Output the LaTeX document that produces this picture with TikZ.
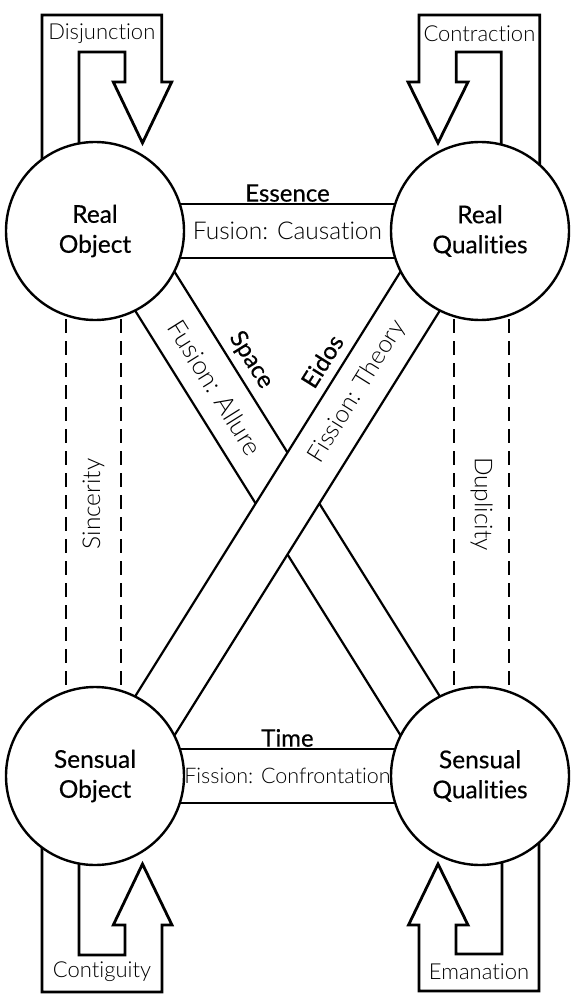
\documentclass[tikz,border=0pt]{standalone}
\usepackage{fontspec}
\setmainfont{Lato}[Ligatures=NoCommon]
\newfontfamily\lightfont{Lato Light}[Ligatures=NoCommon]
\newfontfamily\midfont{Lato}[FakeBold=0.4, Ligatures=NoCommon]
\usetikzlibrary{calc,backgrounds}

\tikzset{
  ball/.style={circle, draw, line width=2.4pt, fill=white, minimum size=178pt, inner sep=0pt, align=center, font=\midfont\fontsize{24.5}{30}\selectfont},
  band/.style={line width=2.2pt},
  loop/.style={line width=2.8pt, line join=miter},
  gap/.style={line width=2.4pt, dash pattern=on 14pt off 8pt},
  note/.style={font=\lightfont\fontsize{22}{26}\selectfont, inner sep=0pt},
  thin/.style={font=\lightfont\fontsize{24.5}{28}\selectfont, inner sep=0pt},
  tag/.style={font=\midfont\fontsize{24}{27}\selectfont, inner sep=2pt},
}

\begin{document}
\begin{tikzpicture}[x=1pt,y=1pt]

    \useasboundingbox (0,0) rectangle (578,-1000);

    \node[ball] (ro) at (95,-231) {Real\\Object};
    \node[ball] (rq) at (480,-231) {Real\\Qualities};
    \node[ball] (so) at (95,-776) {Sensual\\Object};
    \node[ball] (sq) at (480,-776) {Sensual\\Qualities};
    \coordinate (mid) at ($(ro)!.5!(sq)$);

    \begin{scope}[on background layer]
    % dashed pairs
    \draw[gap] ([xshift=-29pt]ro.center) -- ([xshift=-29pt]so.center);
    \draw[gap] ([xshift=26pt]ro.center) -- ([xshift=26pt]so.center);
    \draw[gap] ([xshift=-26pt]rq.center) -- ([xshift=-26pt]sq.center);
    \draw[gap] ([xshift=29pt]rq.center) -- ([xshift=29pt]sq.center);
    % loops
    \draw[loop] (42,-200) -- (42,-15) -- (161.7,-15) -- (161.7,-82) -- (171.7,-82) -- (142.5,-143) -- (113.3,-82) -- (125,-82) -- (125,-52) -- (79,-52) -- (79,-200);
    \draw[loop] (539.7,-200) -- (539.7,-15) -- (419,-15) -- (419,-82) -- (408,-82) -- (438,-143) -- (468,-82) -- (456.3,-82) -- (456.3,-52) -- (501.3,-52) -- (501.3,-200);
    \draw[loop] (42,-807) -- (42,-992) -- (162,-992) -- (162,-925) -- (172,-925) -- (142.5,-864) -- (113.3,-925) -- (125,-925) -- (125,-955) -- (79,-955) -- (79,-807);
    \draw[loop] (539,-807) -- (539,-991) -- (419,-991) -- (419,-925) -- (408.5,-925) -- (438,-864) -- (468,-925) -- (456,-925) -- (456,-954) -- (502,-954) -- (502,-807);
    % bands
    \draw[band] ([yshift=27pt]ro.center) rectangle ([yshift=-27pt]rq.center);
    \draw[band] ([yshift=27pt]so.center) rectangle ([yshift=-27pt]sq.center);
    \draw[band] ($(mid)+(32:27)+(122:300)$) -- ($(mid)+(32:27)+(-58:300)$)
                ($(mid)+(212:27)+(122:300)$) -- ($(mid)+(212:27)+(-58:300)$);
    \draw[band, fill=white] ($(mid)+(148:27)+(58:300)$) -- ($(mid)+(-32:27)+(58:300)$) -- ($(mid)+(-32:27)+(238:300)$) -- ($(mid)+(148:27)+(238:300)$) -- cycle;
    \end{scope}

    \node[note] (disjunction) at (101.8,-33.5) {Disjunction};
    \node[note] (contraction) at (479.4,-33.5) {Contraction};
    \node[note] (contiguity) at (102,-972) {Contiguity};
    \node[note] (emanation) at (479,-972) {Emanation};
    \node[thin, rotate=90] (sincerity) at (93.5,-504) {Sincerity};
    \node[thin, rotate=-90] (duplicity) at (481.5,-504) {Duplicity};

    \path ([yshift=27pt]ro.center) -- ([yshift=27pt]rq.center) node[tag, midway, above] (essence) {Essence};
    \path (ro) -- (rq) node[thin, midway] (causation) {Fusion: Causation};
    \path ([yshift=27pt]so.center) -- ([yshift=27pt]sq.center) node[tag, midway, above] (time) {Time};
    \path (so) -- (sq) node[note, midway, font=\lightfont\fontsize{21.5}{26}\selectfont] (confrontation) {Fission: Confrontation};

    \node[thin, rotate=-58, anchor=west, font=\lightfont\fontsize{26}{28}\selectfont] (allure) at ($(mid)+(122:214)$) {Fusion: Allure};
    \node[tag, rotate=-58] (space) at ($(mid)+(122:141)+(32:45)$) {Space};
    \node[tag, rotate=58] (eidos) at ($(mid)+(58:139)+(148:46)$) {Eidos};
    \node[thin, rotate=58, anchor=east] (theory) at ($(mid)+(58:213)$) {Fission: Theory};

\end{tikzpicture}
\end{document}
